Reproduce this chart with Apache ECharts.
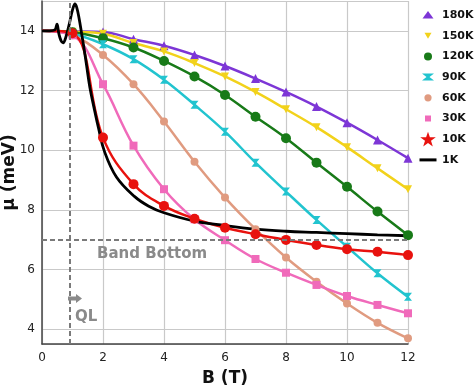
<!DOCTYPE html>
<html><head><meta charset="utf-8">
<script src="https://cdn.jsdelivr.net/npm/echarts@6/dist/echarts.min.js"></script>
<style>html,body{margin:0;padding:0;background:#fff}#c{width:474px;height:390px}</style>
</head><body><div id="c"></div>
<script>
// ---- data ----
const fieldB = [0,1,2,3,4,5,6,7,8,9,10,11,12];
const mu180K = [14.0,13.98,13.96,13.72,13.50,13.19,12.82,12.40,11.95,11.46,10.92,10.34,9.73];
const mu150K = [14.0,13.97,13.90,13.59,13.31,12.92,12.47,11.95,11.37,10.77,10.10,9.39,8.69];
const mu120K = [14.0,13.95,13.75,13.44,12.99,12.47,11.85,11.12,10.40,9.58,8.77,7.94,7.15];
const mu90K  = [14.0,13.90,13.55,13.05,12.36,11.52,10.62,9.58,8.61,7.66,6.76,5.87,5.08];
const mu60K  = [14.0,13.85,13.19,12.21,10.96,9.61,8.41,7.35,6.40,5.59,4.86,4.21,3.69];
const mu30K  = [14.0,13.85,12.21,10.15,8.69,7.68,6.98,6.35,5.89,5.48,5.11,4.81,4.53];
const mu10K  = [14.0,13.92,10.42,8.86,8.13,7.70,7.40,7.18,6.99,6.82,6.68,6.59,6.48];
const field1K = [0,0.25,0.42,0.49,0.55,0.62,0.69,0.78,0.9,1.0,1.08,1.14,1.22,1.3,1.38,1.46,1.57,1.7,1.85,2.05,2.44,3.04,3.5,4,5,6,7,8,9,10,11,12];
const mu1K    = [14.0,14.0,14.03,14.22,13.92,13.68,13.6,13.78,14.25,14.7,14.9,14.78,14.4,13.9,13.4,12.85,12.1,11.45,10.75,9.95,9.1,8.44,8.12,7.9,7.62,7.47,7.35,7.28,7.24,7.2,7.16,7.13];
const qlField = 0.91;
const bandBottom = 7.0;
const seriesNames = ['180K','150K','120K','90K','60K','30K','10K','1K'];
const xTicks = {min:0, max:12, interval:2};

const FONT = 'DejaVu Sans';
const colors = {
  '180K':'#7d36d6','150K':'#f2d21b','120K':'#187a18','90K':'#22c4cf',
  '60K':'#e09b80','30K':'#f06aba','10K':'#e8120e','1K':'#000000'
};
const hourglass = 'path://M0,0 L10,0 L6,5 L10,10 L0,10 L4,5 Z';
const markers = {
  '180K':{symbol:'triangle', size:9},
  '150K':{symbol:'triangle', size:8, rotate:180},
  '120K':{symbol:'circle', size:10},
  '90K':{symbol:hourglass, size:8},
  '60K':{symbol:'circle', size:8},
  '30K':{symbol:'rect', size:8},
  '10K':{symbol:'circle', size:10}
};
// legend icons, drawn in an 18x16 box (moveTo corners fix the box)
const box = 'M0,0 M18,16 ';
const legendIcons = {
  '180K':'path://'+box+'M9,4 L14.5,11.5 L3.5,11.5 Z',
  '150K':'path://'+box+'M5.5,5 L12.5,5 L9,11 Z',
  '120K':'path://'+box+'M5,8 A4,4 0 1,0 13,8 A4,4 0 1,0 5,8 Z',
  '90K':'path://'+box+'M3,4.5 L15,4.5 L10.5,8 L15,11.5 L3,11.5 L7.5,8 Z',
  '60K':'path://'+box+'M5.4,8 A3.6,3.6 0 1,0 12.6,8 A3.6,3.6 0 1,0 5.4,8 Z',
  '30K':'path://'+box+'M6,5 L12,5 L12,11 L6,11 Z',
  '10K':'path://'+box+'M9,0.5 L10.9,6 L16.8,6 L12,9.5 L13.8,15.2 L9,11.7 L4.2,15.2 L6,9.5 L1.2,6 L7.1,6 Z',
  '1K':'path://'+box+'M0.5,6.5 L17.5,6.5 L17.5,9.5 L0.5,9.5 Z'
};
const muByName = {'180K':mu180K,'150K':mu150K,'120K':mu120K,'90K':mu90K,'60K':mu60K,'30K':mu30K,'10K':mu10K};

const series = [];
seriesNames.forEach(name => {
  if (name === '1K') return;
  const m = markers[name];
  series.push({
    name, type:'line', smooth:0.4,
    data: fieldB.map((b,i)=> i===0 ? {value:[b, muByName[name][i]], symbol:'none'} : [b, muByName[name][i]]),
    symbol:m.symbol, symbolSize:m.size, symbolRotate:m.rotate||0, showAllSymbol:true,
    color:colors[name],
    lineStyle:{width:2.5, color:colors[name]},
    itemStyle:{color:colors[name]}
  });
});
series.push({
  name:'1K', type:'line', smooth:0.4, showSymbol:false, symbol:'none',
  data: field1K.map((b,i)=>[b, mu1K[i]]),
  color:'#000', lineStyle:{width:2.8, color:'#000'},
  markLine:{
    silent:true, symbol:['none','none'], label:{show:false},
    lineStyle:{color:'#7a7a7a', type:[5,3], width:2},
    data:[{xAxis:qlField},{yAxis:bandBottom}]
  },
  z:3
});

const chart = echarts.init(document.getElementById('c'), null, {renderer:'canvas'});
chart.setOption({
  animation:false,
  backgroundColor:'#fff',
  textStyle:{fontFamily:FONT},
  grid:{left:42, right:66, top:1, bottom:46, containLabel:false, outerBoundsMode:'none'},
  xAxis:{
    type:'value', min:xTicks.min, max:xTicks.max, interval:xTicks.interval,
    name:'B (T)', nameLocation:'middle', nameGap:26, nameMoveOverlap:false,
    nameTextStyle:{fontFamily:FONT, fontWeight:'bold', fontSize:17, color:'#111'},
    axisLine:{show:true, onZero:false, lineStyle:{color:'#444', width:1.5}},
    axisTick:{show:false},
    axisLabel:{fontFamily:FONT, fontSize:12, color:'#222', margin:8},
    splitLine:{show:true, lineStyle:{color:'#c9c9c9', width:1.2}}
  },
  yAxis:{
    type:'value', min:3.5, max:15, splitNumber:5,
    name:'μ (meV)', nameLocation:'middle', nameGap:24, nameRotate:90, nameMoveOverlap:false,
    nameTextStyle:{fontFamily:FONT, fontWeight:'bold', fontSize:17, color:'#111'},
    axisLine:{show:true, lineStyle:{color:'#444', width:1.5}},
    axisTick:{show:false},
    axisLabel:{fontFamily:FONT, fontSize:12, color:'#222', margin:7, showMinLabel:false, showMaxLabel:false},
    splitLine:{show:true, lineStyle:{color:'#c9c9c9', width:1.2}}
  },
  legend:{
    orient:'vertical', left:414, top:2, itemWidth:18, itemHeight:16, itemGap:4.7,
    selectedMode:false,
    textStyle:{fontFamily:FONT, fontWeight:'bold', fontSize:11, color:'#111'},
    data: seriesNames.map(n=>({name:n, icon:legendIcons[n], itemStyle:{color:colors[n], borderWidth:0}}))
  },
  graphic:[
    {type:'text', left:97, top:247, z:10, style:{text:'Band Bottom', fill:'#8a8a8a', font:'bold 15px "DejaVu Sans"'}},
    {type:'text', left:75, top:310, z:10, style:{text:'QL', fill:'#8a8a8a', font:'bold 15px "DejaVu Sans"'}},
    {type:'polygon', z:10, shape:{points:[[68,296.5],[76,296.5],[76,294],[82,298.5],[76,303],[76,300.5],[68,300.5]]}, style:{fill:'#8a8a8a'}}
  ],
  series
});
</script></body></html>
